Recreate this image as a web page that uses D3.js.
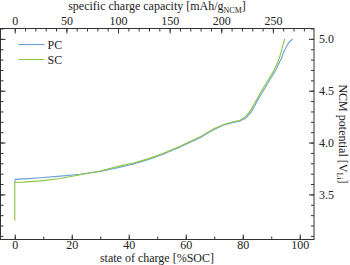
<!DOCTYPE html>
<html>
<head>
<meta charset="utf-8">
<script src="https://cdn.jsdelivr.net/npm/d3@7"></script>
<style>
  body { margin:0; background:#fff; }
</style>
</head>
<body>
<div class="canvas"></div>
<script>
// data: state of charge [%SOC] vs NCM potential [V]
var pcSoc = [0, 0.2, 5, 9, 16, 23, 30, 37, 42, 47, 52, 58, 65, 70, 73, 76, 79, 81, 83, 86, 89.5, 91.5, 92.5, 93.5, 94.5, 95.5, 96.5, 97.6];
var pcV   = [3.62, 3.645, 3.652, 3.66, 3.676, 3.695, 3.722, 3.762, 3.797, 3.837, 3.887, 3.957, 4.047, 4.127, 4.167, 4.19, 4.208, 4.235, 4.295, 4.445, 4.605, 4.695, 4.75, 4.81, 4.88, 4.935, 4.975, 5.0];

var scSoc = [0, 0, 3, 9, 16, 23, 30, 37, 42, 47, 52, 58, 65, 70, 73, 76, 79, 81, 83, 86, 89.5, 91.2, 92.2, 93, 93.6, 94.2, 94.7];
var scV   = [3.245, 3.615, 3.618, 3.63, 3.654, 3.69, 3.725, 3.775, 3.805, 3.845, 3.895, 3.965, 4.055, 4.135, 4.17, 4.195, 4.215, 4.25, 4.32, 4.47, 4.63, 4.71, 4.77, 4.83, 4.89, 4.95, 5.0];

var seriesNames = ['PC', 'SC'];
var seriesColors = ['#6a9fd9', '#8cc63e'];

var socTicks = [0, 20, 40, 60, 80, 100];
var capTicks = [0, 50, 100, 150, 200, 250];
var vTicks = [3.5, 4.0, 4.5, 5.0];
var capPerSoc = 2.76; // mAh/g per %SOC

var pageWidth = 350, pageHeight = 265;
var margins = {t:28.5, r:36, b:25.5, l:0.5};
var plotWidth = pageWidth - margins.l - margins.r,
    plotHeight = pageHeight - margins.t - margins.b;
var font = '"Liberation Serif", "Times New Roman", Times, serif';

var svg = d3.select('.canvas').append('svg')
    .attr('width', pageWidth)
    .attr('height', pageHeight)
    .attr('font-family', font)
    .attr('font-size', 12);
var plot = svg.append('g')
    .attr('transform', 'translate(' + margins.l + ',' + margins.t + ')');

var socDomain = [-5, 105];
var x = d3.scaleLinear().domain(socDomain).range([0, plotWidth]);
var xCap = d3.scaleLinear().domain(socDomain.map(function(d){ return d * capPerSoc; })).range([0, plotWidth]);
var y = d3.scaleLinear().domain([3.065, 5.1]).range([plotHeight, 0]);

function minorTicks(from, to, step){
    var arr = [];
    for (var v = from; v <= to + 1e-9; v += step) arr.push(+v.toFixed(3));
    return arr;
}

// d3 axes put their own font on the group, undo that
function styleAxis(g){
    g.attr('font-family', font).attr('font-size', 12);
    g.select('.domain').remove();
    g.selectAll('line').attr('stroke', '#333').attr('stroke-width', 1);
    g.selectAll('text').attr('fill', '#222');
}

// bottom axis (inward ticks)
plot.append('g').attr('transform', 'translate(0,' + plotHeight + ')')
    .call(d3.axisBottom(x).tickValues(minorTicks(0, 100, 10)).tickSize(-3).tickFormat(''))
    .call(styleAxis);
plot.append('g').attr('transform', 'translate(0,' + plotHeight + ')')
    .call(d3.axisBottom(x).tickValues(socTicks).tickSize(-5).tickPadding(1).tickFormat(d3.format('d')))
    .call(styleAxis);

// top axis
plot.append('g')
    .call(d3.axisTop(xCap).tickValues(minorTicks(0, 280, 10)).tickSize(-3).tickFormat(''))
    .call(styleAxis);
plot.append('g')
    .call(d3.axisTop(xCap).tickValues(capTicks).tickSize(-5).tickPadding(4).tickFormat(d3.format('d')))
    .call(styleAxis);

// right axis
plot.append('g').attr('transform', 'translate(' + plotWidth + ',0)')
    .call(d3.axisRight(y).tickValues(minorTicks(3.1, 5.1, 0.1)).tickSize(-3).tickFormat(''))
    .call(styleAxis);
plot.append('g').attr('transform', 'translate(' + plotWidth + ',0)')
    .call(d3.axisRight(y).tickValues(vTicks).tickSize(-5).tickPadding(5).tickFormat(d3.format('.1f')))
    .call(styleAxis);

// left axis, ticks only
plot.append('g')
    .call(d3.axisLeft(y).tickValues(minorTicks(3.1, 5.1, 0.1)).tickSize(-3).tickFormat(''))
    .call(styleAxis);
plot.append('g')
    .call(d3.axisLeft(y).tickValues(vTicks).tickSize(-5).tickFormat(''))
    .call(styleAxis);

// frame
plot.append('rect')
    .attr('width', plotWidth).attr('height', plotHeight)
    .attr('fill', 'none').attr('stroke', '#333').attr('stroke-width', 1);

// curves
var line = d3.line()
    .x(function(d){ return x(d[0]); })
    .y(function(d){ return y(d[1]); });

var series = [
    d3.zip(pcSoc, pcV),
    d3.zip(scSoc, scV)
];
series.forEach(function(s, i){
    plot.append('path')
        .datum(s)
        .attr('fill', 'none')
        .attr('stroke', seriesColors[i])
        .attr('stroke-width', 1.1)
        .attr('d', line);
});

// legend
var legend = plot.append('g').attr('transform', 'translate(18,16)');
seriesNames.forEach(function(name, i){
    var row = legend.append('g').attr('transform', 'translate(0,' + (i * 15) + ')');
    row.append('line').attr('x1', 0).attr('x2', 26)
        .attr('stroke', seriesColors[i]).attr('stroke-width', 1.1);
    row.append('text').attr('x', 29).attr('y', 4).attr('fill', '#222').text(name);
});

// axis titles
var topTitle = svg.append('text')
    .attr('x', 157).attr('y', 10)
    .attr('text-anchor', 'middle').attr('fill', '#222');
topTitle.append('tspan').text('specific charge capacity [mAh/g');
topTitle.append('tspan').attr('dy', 2.5).attr('font-size', 8).text('NCM');
topTitle.append('tspan').attr('dy', -2.5).text(']');

svg.append('text')
    .attr('x', 157).attr('y', 262)
    .attr('text-anchor', 'middle').attr('fill', '#222')
    .text('state of charge [%SOC]');

var rightTitle = svg.append('text')
    .attr('transform', 'translate(339,' + (margins.t + plotHeight / 2) + ') rotate(90)')
    .attr('text-anchor', 'middle').attr('fill', '#222');
rightTitle.append('tspan').text('NCM potential [V');
rightTitle.append('tspan').attr('dy', 2.5).attr('font-size', 8).text('Li');
rightTitle.append('tspan').attr('dy', -2.5).text(']');
</script>
</body>
</html>
